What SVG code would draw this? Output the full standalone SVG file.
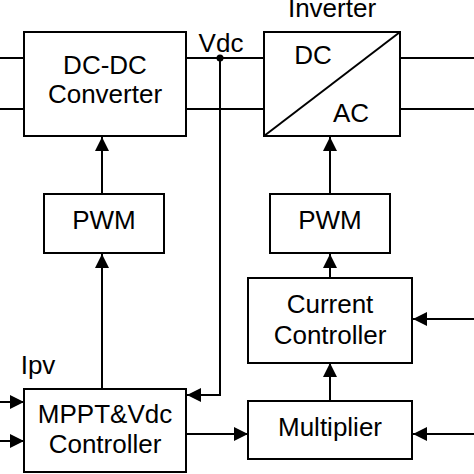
<svg xmlns="http://www.w3.org/2000/svg" width="474" height="474" viewBox="0 0 474 474">
<defs>
<style>
.box{fill:#fff;stroke:#000;stroke-width:2}
.ln{fill:none;stroke:#000;stroke-width:2}
.arr{fill:none;stroke:#000;stroke-width:2;marker-end:url(#ah)}
text{font-family:"Liberation Sans",Arial,sans-serif;font-size:26px;fill:#000;text-anchor:middle}
</style>
<marker id="ah" viewBox="0 0 14 14" refX="14" refY="7" markerWidth="14" markerHeight="14" markerUnits="userSpaceOnUse" orient="auto">
<path d="M0,0 L14,7 L0,14 Z" fill="#000"/>
</marker>
</defs>
<rect width="474" height="474" fill="#fff"/>
<g id="connectors">
<line class="ln" x1="0" y1="58" x2="24" y2="58"/>
<line class="ln" x1="0" y1="109" x2="24" y2="109"/>
<line class="ln" x1="186" y1="58" x2="264" y2="58"/>
<line class="ln" x1="186" y1="109" x2="264" y2="109"/>
<line class="ln" x1="400" y1="58" x2="474" y2="58"/>
<line class="ln" x1="400" y1="109" x2="474" y2="109"/>
<circle cx="220" cy="58" r="3.5" fill="#000"/>
<polyline class="arr" points="220,58 220,395 187,395"/>
<line class="arr" x1="102" y1="194" x2="102" y2="137"/>
<line class="arr" x1="102" y1="389" x2="102" y2="254"/>
<line class="arr" x1="330" y1="194" x2="330" y2="137"/>
<line class="arr" x1="330" y1="278" x2="330" y2="254"/>
<line class="arr" x1="330" y1="401" x2="330" y2="363"/>
<line class="arr" x1="0" y1="402" x2="24" y2="402"/>
<line class="arr" x1="0" y1="441" x2="24" y2="441"/>
<line class="arr" x1="186" y1="434" x2="248" y2="434"/>
<line class="arr" x1="474" y1="434" x2="413" y2="434"/>
<line class="arr" x1="474" y1="319" x2="413" y2="319"/>
</g>
<text x="221" y="52">Vdc</text>
<text x="38" y="374">Ipv</text>
<g id="dcdc">
<rect class="box" x="24" y="32" width="162" height="104"/>
<text x="105" y="74">DC-DC</text>
<text x="105" y="103">Converter</text>
</g>
<g id="inverter">
<rect class="box" x="264" y="32" width="136" height="104"/>
<line class="ln" x1="264" y1="136" x2="400" y2="32"/>
<text x="332" y="17">Inverter</text>
<text x="313" y="64">DC</text>
<text x="351" y="122">AC</text>
</g>
<g id="pwm1">
<rect class="box" x="44" y="194" width="120" height="59"/>
<text x="104" y="229">PWM</text>
</g>
<g id="pwm2">
<rect class="box" x="270" y="194" width="120" height="59"/>
<text x="330" y="229">PWM</text>
</g>
<g id="current">
<rect class="box" x="248" y="278" width="164" height="85"/>
<text x="330" y="313">Current</text>
<text x="330" y="344">Controller</text>
</g>
<g id="mppt">
<rect class="box" x="24" y="389" width="162" height="83"/>
<text x="105" y="423">MPPT&amp;Vdc</text>
<text x="105" y="453">Controller</text>
</g>
<g id="multiplier">
<rect class="box" x="248" y="401" width="164" height="58"/>
<text x="330" y="436">Multiplier</text>
</g>
</svg>
